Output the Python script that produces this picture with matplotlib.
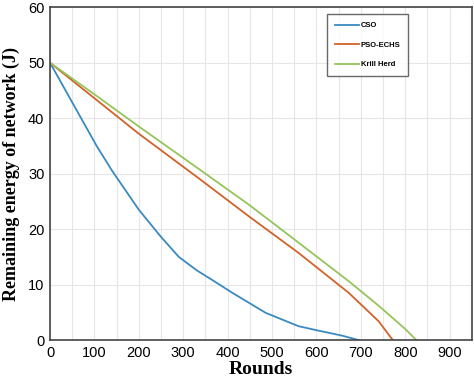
import matplotlib
matplotlib.use("Agg")
import matplotlib.pyplot as plt

rounds_cso = [0, 35, 70, 105, 140, 170, 200, 250, 290, 330, 370, 411, 486, 560, 605, 658, 695]
energy_cso = [50, 45, 40, 35, 30.5, 27, 23.5, 18.6, 15, 12.6, 10.6, 8.5, 4.9, 2.5, 1.7, 0.8, 0]

rounds_pso = [0, 100, 200, 336, 448, 560, 673, 740, 772]
energy_pso = [50, 43.6, 37.2, 29.1, 22.3, 15.7, 8.5, 3.4, 0]

rounds_krill = [0, 100, 200, 336, 448, 538, 673, 740, 800, 825]
energy_krill = [50, 44.3, 38.5, 30.8, 24.4, 18.9, 10.6, 6.2, 2, 0]

fig = plt.figure(figsize=(4.74, 3.8), dpi=100)
ax = fig.add_axes([0.1055, 0.105, 0.89, 0.876])

ax.plot(rounds_cso, energy_cso, color='#3a8ac0', lw=1.3, label='CSO')
ax.plot(rounds_pso, energy_pso, color='#d0622a', lw=1.3, label='PSO-ECHS')
ax.plot(rounds_krill, energy_krill, color='#95c45a', lw=1.3, label='Krill Herd')

ax.set_xlim(0, 937)
ax.set_ylim(0, 60)
ax.set_xticks(range(0, 901, 100))
ax.set_yticks(range(0, 61, 10))
ax.set_xticks(range(0, 951, 50), minor=True)
ax.grid(True, which='both', axis='x', color='#e6e6e6', lw=0.8)
ax.grid(True, which='major', axis='y', color='#e6e6e6', lw=0.8)
ax.tick_params(which='both', length=0, labelsize=10.5, pad=4)
for lab in ax.get_xticklabels() + ax.get_yticklabels():
    lab.set_fontfamily('Liberation Sans')
for s in ax.spines.values():
    s.set_color('#444444')
    s.set_linewidth(1.2)

ax.set_xlabel('Rounds', fontfamily='Liberation Serif', fontweight='bold', fontsize=14, labelpad=1)
ax.set_ylabel('Remaining energy of network (J)', fontfamily='Liberation Serif', fontweight='bold', fontsize=13, labelpad=6)

leg = ax.legend(loc='upper left', bbox_to_anchor=(0.657, 0.979), prop={'family': 'Liberation Sans', 'weight': 'bold', 'size': 5.5},
                frameon=True, fancybox=False, edgecolor='#444444', handlelength=3.2, labelspacing=1.6, borderpad=1.0,
                handletextpad=0.2, borderaxespad=0)
leg.get_frame().set_linewidth(1.0)

fig.savefig('out.png', dpi=100)
